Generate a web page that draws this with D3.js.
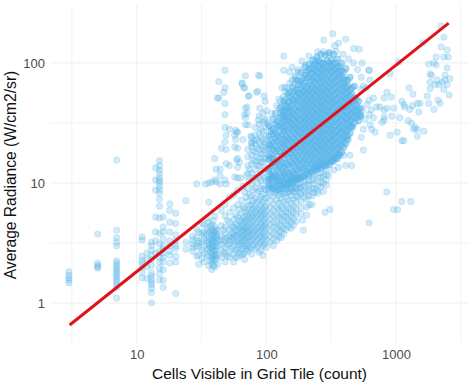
<!DOCTYPE html>
<html>
<head>
<meta charset="utf-8">
<script src="https://cdn.jsdelivr.net/npm/d3@7"></script>
<style>
	body { margin: 0; background: #fff; }
	text { font-family: "Liberation Sans", Arial, sans-serif; }
</style>
</head>
<body>
<script>
// tick labels and grid breaks
var xTicks = [10, 100, 1000];
var xMinor = [3.162, 31.62, 316.2, 3162];
var yTicks = [1, 10, 100];
var yMinor = [3.162, 31.62];

// fitted line ends
var lineX = [3.04, 2550];
var lineY = [0.656, 215];

// columns: [cells visible, [radiance, ...]]
var lowColumns = [
	[3, [1.82, 1.7, 1.62, 1.55, 1.47]],
	[5, [3.75, 2.15, 2.05, 2.0, 1.95]],
	[7, [15.5, 4.05, 3.5, 3.2, 3.0, 2.25, 2.15, 2.05, 1.95, 1.88, 1.8, 1.72, 1.65, 1.58, 1.5, 1.42, 1.35, 1.1]],
	[11, [3.55, 3.35, 2.45, 2.25, 2.15, 1.98, 1.8, 1.62]],
	[12, [2.6, 2.3, 2.0, 1.6]],
	[13, [3.2, 3.0, 2.75, 2.5, 2.3, 2.05, 1.78, 1.68, 1.58, 1.48, 1.42, 1.32, 1.22, 1.0]],
	[14, [13.4, 10.6, 8.7, 5.2, 3.9, 3.3, 2.6]],
	[15, [15.3, 13.9, 12.8, 12, 11, 10.5, 10.1, 9.4, 8.8, 8.2, 7.3, 6.4, 5.1, 3.8, 3.1, 2.7, 2.4, 2.2, 1.95, 1.75, 1.55]],
	[16, [5.2, 4.3, 3.9, 3.4, 3.0, 2.8, 2.6, 2.4, 2.2, 1.9, 1.55, 1.35]],
	[18, [6.7, 5.9, 4.7, 3.9, 3.3, 3, 2.7, 2.5, 2.15]],
	[20, [5.6, 4.6, 3.7, 3.3, 3, 2.85, 2.45, 2.2, 1.2]],
	[24, [7.1, 3.2, 2.8]]
];

var lowerBand = [
	[27, [3.6, 3.1, 2.7, 3.35, 2.9]],
	[29, [4.1, 3.0, 2.45, 3.5]],
	[30, [3.9, 3.3, 2.9, 2.5, 2.1, 3.15]],
	[32, [3.8, 3.2, 2.75, 4.6, 2.35]],
	[33, [4.5, 3.9, 3.4, 3.0, 2.6, 2.2, 3.65]],
	[35, [5.1, 4.2, 3.3, 2.85, 2.5, 3.75]],
	[36, [6.9, 4.7, 4.0, 3.5, 3.2, 2.8, 2.45, 2.05, 3.05]],
	[37, [4.35, 3.85, 3.35, 2.95, 2.65, 2.25]],
	[38, [4.5, 4.1, 3.7, 3.4, 3.1, 2.85, 2.6, 2.35, 2.15, 1.9]],
	[39, [4.85, 3.95, 3.6, 3.25, 3.0, 2.75, 2.5, 2.3, 2.05]],
	[40, [5.3, 4.3, 3.9, 3.55, 3.2, 2.95, 2.7, 2.45, 2.25, 2.0]],
	[41, [4.1, 3.75, 3.45, 3.15, 2.8, 2.55, 2.35]],
	[42, [4.0, 3.6, 3.0, 2.5, 2.1, 3.3]],
	[45, [5.9, 4.4, 3.6, 3.1, 2.75, 2.4, 3.35]],
	[47, [4.05, 3.25, 2.65]],
	[48, [6.6, 5.3, 4.3, 3.8, 3.4, 2.9, 2.55, 2.2]],
	[50, [4.9, 3.5, 3.05, 2.45]],
	[52, [7.6, 5.7, 4.7, 4.1, 3.6, 3.1, 2.7, 2.4, 3.3]],
	[54, [4.35, 3.85, 3.45, 2.85]],
	[56, [8, 6.2, 5.0, 4.3, 3.8, 3.3, 3, 2.55, 2.2, 3.55]],
	[58, [5.4, 4.55, 4.05, 3.65, 3.15, 2.75, 2.4]],
	[60, [16, 13.5, 11, 8.7, 6.6, 5.2, 4.5, 4.0, 3.6, 3.2, 2.8, 2.4]],
	[62, [6, 4.85, 4.2, 3.75, 3.35, 3.05, 2.65]],
	[64, [7.2, 5.6, 4.8, 4.3, 3.9, 3.5, 3.2, 2.85, 2.5]],
	[66, [9.4, 6.4, 5.05, 4.45, 4.05, 3.65, 3.3, 2.95, 2.55]],
	[68, [8.4, 6.2, 5.3, 4.7, 4.2, 3.8, 3.4, 3.0, 2.6, 2.3]],
	[70, [11.5, 7.6, 5.7, 4.95, 4.35, 3.95, 3.55, 3.15, 2.8]],
	[72, [19, 16.5, 14, 12, 9, 7, 6, 5.3, 4.7, 4.2, 3.8, 3.4, 3, 2.7]],
	[74, [13, 10.4, 8, 6.5, 5.6, 5, 4.45, 4, 3.6, 3.25, 2.85]],
	[77, [24, 20, 17, 14.5, 12, 10, 7.8, 6.6, 5.8, 5.2, 4.6, 4.1, 3.7, 3.3, 2.9, 2.55]],
	[79, [18.5, 15.5, 11, 8.8, 7.1, 6.1, 5.4, 4.85, 4.3, 3.85, 3.45, 3.05]],
	[82, [29, 25, 21, 18, 15, 13, 9.1, 7.4, 6.4, 5.7, 5.1, 4.5, 4, 3.6, 3.2, 2.8]],
	[85, [23, 19.5, 16.5, 14, 11.5, 10, 8.2, 6.9, 6, 5.35, 4.7, 4.2, 3.75, 3.35, 2.95]],
	[88, [36, 31, 26, 22, 19, 16, 14, 11, 8.6, 7.2, 6.2, 5.5, 4.9, 4.3, 3.9, 3.5, 3.1, 2.65]],
	[91, [28, 24, 20.5, 17.5, 15, 12.5, 10.5, 9, 7.7, 6.6, 5.8, 5.15, 4.55, 4.05, 3.6, 3.2, 2.75]],
	[94, [38, 32, 27, 23, 20, 17.5, 15, 12, 9.5, 8, 6.9, 6, 5.4, 4.8, 4.3, 3.8, 3.4, 3, 2.5]],
	[97, [33, 21.5, 18.5, 16, 13.5, 11, 8.9, 7.4, 6.3, 5.6, 5, 4.45, 4, 3.55, 3.1]],
	[100, [40, 34, 29, 25, 22, 19, 16, 13, 10.5, 8.7, 7.5, 6.5, 5.8, 5.2, 4.6, 4.2, 3.7, 3.3, 2.9]],
	[107, [8.2, 7.2, 6.3, 5.6, 5, 4.5, 4, 3.6, 3.2]],
	[113, [7.7, 6.7, 5.9, 5.3, 4.75, 4.25, 3.8, 3.4, 3]],
	[120, [8.5, 7.2, 6.2, 5.4, 4.7, 4.2, 3.7, 3.3]],
	[125, [7.9, 6.8, 6, 5.2, 4.5, 4, 3.55]],
	[130, [8.6, 7.4, 6.4, 5.6, 5, 4.4, 3.9, 3.5]],
	[136, [8.1, 7, 6.1, 5.35, 4.8, 4.2, 3.75]],
	[142, [8.8, 7.6, 6.6, 5.8, 5.2, 4.6, 4.1]],
	[148, [8.3, 7.2, 6.2, 5.5, 4.9, 4.35]],
	[155, [8.9, 7.8, 6.8, 6, 5.3, 4.7, 4.2]],
	[162, [8.4, 7.3, 6.4, 5.65, 5, 4.45]],
	[170, [9, 7.8, 6.9, 6.1, 5.5, 4.8]],
	[185, [9.2, 8, 7, 6.2, 5.5]],
	[205, [9.8, 8.4, 7.3, 6.3, 5.4]],
	[225, [10.5, 9, 7.8, 6.6]],
	[250, [11, 9.5, 8.2]],
	[275, [11.5, 10, 8.5]]
];

// joins the lower band to the core, and widens the core's upper left side
var bridge = [
	[104, [11.2, 10.1, 9.1, 8.4]],
	[111, [10.8, 9.6, 8.9]],
	[117, [11.4, 10.2, 9.3, 8.2]],
	[124, [10.7, 9.7, 8.9]],
	[129, [11.5, 10.4, 9.4, 8.2, 48, 43, 38]],
	[135, [10.9, 9.9, 9, 52, 46, 36]],
	[140, [11.2, 10.3, 9.4, 8.3, 58, 50, 44]],
	[146, [10.6, 9.8, 9, 62, 54, 42]],
	[152, [11.3, 10.2, 9.3, 8.5, 68, 58, 48]],
	[158, [10.4, 9.6, 8.8, 72, 56]],
	[166, [11, 10, 9.2, 8.5, 78, 66, 54]],
	[175, [10.6, 9.7, 8.9, 7.7, 84, 72]],
	[183, [10.8, 10, 9.1, 8.2]],
	[196, [11.2, 10.3, 9.4, 8.6, 7.6]],
	[212, [11.4, 10.5, 9.6, 8.7, 7.8]],
	[233, [11.8, 10.8, 9.8, 8.9]],
	[262, [12.2, 11.2, 10.2, 9.2]],
	[290, [12.8, 11.8, 10.6, 9.6]]
];

// dense middle of the cloud, read by column
var coreColumns = [
	[105, [30, 24.5, 21, 19.4, 16.8, 15.6, 13.2, 12.5, 10.7, 9.6]],
	[109, [27, 23, 20.4, 17.4, 16.1, 13.9, 11.7, 10.9, 9.4]],
	[113, [34, 28, 25.6, 21.8, 18.9, 15.9, 14.8, 12.1, 11.2, 9]],
	[118, [38, 31, 26, 23.4, 20.3, 18.2, 15.1, 13.6, 11.6, 10.3, 8.8]],
	[122, [33, 29.5, 24.8, 22.2, 19.1, 16.6, 14.6, 12.9, 11, 10]],
	[127, [42, 35, 30.4, 27.4, 23.8, 20.9, 18.3, 15.7, 14, 12.3, 10.4, 9]],
	[133, [40, 36.6, 31.8, 28.6, 25, 21.6, 19.7, 17.1, 14.9, 13.1, 11.4, 9.5]],
	[137, [48, 39, 34, 30, 26.7, 23.1, 20.6, 18, 16, 13.7, 12, 10]],
	[142, [44, 41, 35.8, 32.5, 28.2, 24.6, 22.4, 19.2, 17.3, 14.5, 12.7, 11, 9.5]],
	[148, [56, 47, 38.7, 34.4, 31, 27, 23.6, 21, 18.7, 16.4, 14.2, 12.2, 10]],
	[153, [52, 43.5, 40, 36, 32, 29, 25.4, 22.6, 20, 17.6, 15.2, 13.3, 11.6, 10.5]],
	[159, [63, 50, 45, 38.5, 34.5, 30.5, 27.6, 24, 21.6, 19, 16.7, 14.6, 12.4, 11, 10]],
	[165, [58, 48.5, 41.6, 37, 33.4, 29.6, 26.2, 23.2, 20.4, 18.1, 15.9, 13.8, 11.9, 10.5]],
	[171, [72, 60, 52.5, 46.4, 40.4, 35.6, 32, 28.4, 25.2, 22, 19.6, 17.2, 15, 13, 11.3, 10.8]],
	[177, [66, 56, 49.5, 43.6, 38.8, 34, 30.3, 27, 24, 21.2, 18.6, 16.3, 14.3, 12.5, 11]],
	[184, [83, 70, 61, 54, 47.6, 42, 37, 33, 29, 26, 22.8, 20.2, 17.9, 15.6, 13.7, 12.1, 11]],
	[191, [74, 65, 57.5, 51, 45, 40, 35.4, 31.4, 27.8, 24.8, 21.8, 19.3, 17, 14.9, 13, 11.3]],
	[198, [92, 79, 68, 59, 52.4, 46.6, 41.2, 36.4, 32.4, 28.9, 25.6, 22.6, 20, 17.7, 15.5, 13.6, 11.5]],
	[205, [85, 75, 64, 56.5, 49.8, 44, 39.2, 34.6, 30.8, 27.4, 24.4, 21.4, 18.9, 16.7, 14.6, 12.8, 12]],
	[213, [98, 87, 76, 66, 58.4, 51.6, 45.8, 40.6, 36, 32, 28.4, 25.2, 22.2, 19.7, 17.4, 15.3, 13.4, 11.8]],
	[221, [90, 81, 71, 62, 54.8, 48.6, 43, 38, 34, 30, 26.8, 23.8, 21, 18.6, 16.4, 14.4, 12.5]],
	[229, [106, 94, 83, 73, 64, 57, 50.4, 44.6, 39.6, 35.2, 31.2, 27.6, 24.6, 21.8, 19.3, 17.1, 15, 13.2, 12.3]],
	[237, [99, 88, 78, 69, 60.6, 53.6, 47.4, 42, 37.2, 33, 29.4, 26, 23, 20.4, 18, 15.9, 14, 13]],
	[246, [112, 96, 85, 75, 66, 58.6, 52, 46, 40.8, 36.2, 32, 28.4, 25.2, 22.4, 19.8, 17.5, 15.4, 13.6, 12.8]],
	[255, [104, 92, 81, 71.6, 63, 55.6, 49, 43.6, 38.6, 34.2, 30.4, 27, 24, 21.2, 18.8, 16.6, 14.7, 13.5]],
	[264, [118, 101, 89, 78, 69, 61, 54, 47.8, 42.4, 37.6, 33.4, 29.6, 26.2, 23.2, 20.6, 18.2, 16, 14.2, 13.2]],
	[274, [100, 90, 80, 71, 62.6, 55.4, 49, 43.4, 38.4, 34.2, 30.2, 26.8, 23.8, 21, 18.6, 16.4, 14.6, 14]],
	[284, [116, 97, 86, 76, 67.4, 59.6, 52.8, 46.8, 41.4, 36.8, 32.6, 28.8, 25.6, 22.6, 20, 17.8, 15.6, 13.8]],
	[295, [104, 93, 83, 73, 64.6, 57.2, 50.6, 44.8, 39.8, 35.2, 31.2, 27.8, 24.6, 21.8, 19.2, 17, 15, 14.5]],
	[306, [122, 100, 88, 78, 69.4, 61.4, 54.4, 48, 42.6, 37.8, 33.6, 29.8, 26.4, 23.4, 20.8, 18.4, 16.2, 14.2]],
	[317, [106, 95, 84, 74, 65.8, 58.2, 51.6, 45.6, 40.4, 35.8, 31.8, 28.2, 25, 22.2, 19.6, 17.4, 15.4, 15]],
	[329, [118, 98, 87, 77, 68, 60, 53.4, 47.4, 42, 37.2, 33, 29.2, 25.8, 23, 20.4, 18, 16, 15.2]],
	[341, [100, 90, 80, 70.6, 62.6, 55.4, 49.2, 43.6, 38.6, 34.2, 30.4, 27, 24, 21.2, 18.8, 16.6, 15.8]],
	[354, [108, 93, 82, 73, 64.4, 57, 50.6, 45, 39.8, 35.4, 31.4, 27.8, 24.6, 21.8, 19.4, 17.2, 16]],
	[367, [94, 84, 75, 66.6, 59, 52.4, 46.4, 41.2, 36.6, 32.4, 28.8, 25.6, 22.6, 20, 17.8, 17]],
	[381, [100, 86, 76, 67.6, 60, 53, 47.2, 41.8, 37, 33, 29.2, 26, 23, 20.4, 18]],
	[396, [84, 74, 65.6, 58.2, 51.6, 45.8, 40.6, 36, 32, 28.4, 25.2, 22.4, 19.8]],
	[411, [90, 71, 63, 56, 49.6, 44, 39, 34.6, 30.8, 27.2, 24.2, 21.4]],
	[426, [72, 64, 56.6, 50.2, 44.6, 39.6, 35, 31.2, 27.6, 24.6, 23]],
	[442, [76, 60, 53, 47, 41.8, 37, 33, 29.4, 26]],
	[459, [62, 54.6, 48.4, 43, 38.2, 34, 30, 29]],
	[477, [64, 51, 45, 40, 35.6, 31.6]],
	[495, [50, 44.4, 39.4, 35]],
	[514, [48, 41, 36.4, 33]],
	[533, [42, 37, 36]]
];

// scattered tiles: [cells visible, radiance]
var upperLeft = [
	[48, 87], [43, 70], [48, 62], [47, 57], [43, 51], [42, 51], [48, 46], [69, 78], [65, 67], [68, 62], [73, 53], [69, 42], [71, 43],
	[68, 37], [87, 79], [86, 58], [69, 35], [69, 30.5], [48, 37], [48, 29], [52, 28], [59, 26.5], [58, 27.5], [57, 25], [49, 25],
	[45, 19.5], [48, 22], [58, 23], [60, 19.5], [49, 19], [57, 20], [66, 23], [81, 22.5], [77, 21.5], [40, 16], [49, 14.5], [52, 14],
	[44, 13], [41, 13], [44, 11.5], [59, 15.5], [62, 14.8], [63, 11], [57, 11.2], [48, 10.6], [40, 10.6], [34, 9.8], [36, 10], [38, 10.2],
	[41, 10.2], [44, 9.8], [29, 9.8], [49, 9.8], [96, 53], [98, 48], [89, 42], [71, 38], [87, 33.5], [72, 30.5], [60, 26.5], [76, 24.5],
	[77, 21.5], [89, 78], [65, 68], [67, 62], [84, 57], [73, 53]
];

var topFringe = [
	[136, 114], [136, 87], [151, 84], [188, 104], [213, 114], [277, 155], [325, 175], [410, 158], [361, 146], [249, 124], [277, 124],
	[338, 139], [473, 132], [520, 130], [547, 100], [620, 87], [132, 62], [139, 63], [166, 75], [125, 50], [120, 44], [158, 92],
	[175, 88], [200, 96], [240, 105], [300, 118], [345, 125], [390, 118], [430, 108], [470, 100], [505, 88], [540, 76], [560, 64],
	[110, 38], [103, 31], [112, 28]
];

var rightTail = [
	[2230, 203], [1620, 147], [2340, 164], [2230, 136], [2480, 128], [2040, 112], [2340, 112], [2530, 112], [1790, 98], [1960, 100],
	[2040, 96], [1880, 79], [1830, 81], [2480, 91], [2390, 79], [2610, 74], [2390, 72], [1830, 69], [2080, 72], [2480, 66], [2270, 69],
	[2140, 66], [2000, 66], [1830, 61], [2570, 54], [2340, 60], [1740, 53], [2110, 49], [2190, 46], [1960, 41], [1530, 46], [1790, 46],
	[1460, 46], [1350, 55], [1260, 62], [1050, 102], [900, 81], [850, 57], [920, 52], [810, 51], [1110, 48], [1150, 45], [1170, 43],
	[1280, 41], [1340, 44], [1500, 39], [960, 42], [850, 42], [810, 35.5], [930, 36], [1070, 35], [1240, 33], [1320, 31.5], [1400, 29],
	[1460, 28], [1640, 27], [1370, 28], [1460, 24.5], [1020, 26.5], [900, 25], [1110, 22.5], [1150, 22.5], [690, 26.5], [780, 32],
	[810, 33.5], [810, 40.5], [750, 43], [645, 40.5], [710, 43], [670, 35], [630, 30.5], [620, 37], [670, 51], [620, 49], [590, 62],
	[630, 72], [620, 87], [540, 60], [550, 40.5], [600, 45], [580, 34], [560, 28], [540, 24], [650, 28]
];

var lowerRight = [
	[850, 8.4], [1110, 7], [1300, 7], [960, 6], [1030, 6], [620, 4.65], [283, 5.7], [310, 6], [455, 14], [410, 14], [560, 18.8],
	[440, 17], [395, 17], [190, 4.9], [193, 4.05], [215, 6.6], [232, 8.3], [245, 8.6], [330, 12.8], [360, 13.5], [300, 11.5]
];

function flatten(columns) {
	var out = [];
	columns.forEach(function(c) {
		c[1].forEach(function(y) { out.push([c[0], y]); });
	});
	return out;
}

var scatter = flatten(lowColumns).concat(flatten(lowerBand), flatten(bridge), upperLeft, topFringe, rightTail, lowerRight);
var core = flatten(coreColumns);

var width = 474,
	height = 387;

var x = d3.scaleLog()
	.domain([2.145, 3657])
	.range([50, 469]);

var y = d3.scaleLog()
	.domain([0.464, 304])
	.range([343, 5]);

var chart = d3.select('body')
	.append('svg')
	.attr('width', width)
	.attr('height', height)
	.attr('class', 'chart');

// grid
var grid = chart.append('g').attr('fill', 'none');

function gridLines(values, color, lineWidth) {
	values.x.forEach(function(d) {
		grid.append('line')
			.attr('x1', x(d)).attr('x2', x(d))
			.attr('y1', 5).attr('y2', 343)
			.attr('stroke', color).attr('stroke-width', lineWidth);
	});
	values.y.forEach(function(d) {
		grid.append('line')
			.attr('x1', 50).attr('x2', 469)
			.attr('y1', y(d)).attr('y2', y(d))
			.attr('stroke', color).attr('stroke-width', lineWidth);
	});
}
gridLines({x: xMinor, y: yMinor}, '#f3f3f3', 1);
gridLines({x: xTicks, y: yTicks}, '#eeeeee', 1);

// axes
var xAxis = d3.axisBottom(x)
	.tickValues(xTicks)
	.tickFormat(d3.format('d'))
	.tickSize(0)
	.tickPadding(7);

chart.append('g')
	.attr('transform', 'translate(0,343)')
	.call(xAxis)
	.call(function(g) { g.select('.domain').remove(); })
	.selectAll('text')
	.attr('fill', '#4d4d4d')
	.style('font-size', '13px');

var yAxis = d3.axisLeft(y)
	.tickValues(yTicks)
	.tickFormat(d3.format('d'))
	.tickSize(0)
	.tickPadding(5);

chart.append('g')
	.attr('transform', 'translate(50,0)')
	.call(yAxis)
	.call(function(g) { g.select('.domain').remove(); })
	.selectAll('text')
	.attr('fill', '#4d4d4d')
	.style('font-size', '13px');

// points, the core stands in for the heavy overplotting so it is more opaque
var points = chart.append('g').attr('fill', '#56B4E9').attr('stroke', '#56B4E9').attr('stroke-width', 0.8);

points.selectAll('circle.core')
	.data(core)
	.enter().append('circle')
	.attr('class', 'core')
	.attr('cx', function(d) { return x(d[0]); })
	.attr('cy', function(d) { return y(d[1]); })
	.attr('r', 3.2)
	.attr('fill-opacity', 0.5)
	.attr('stroke-opacity', 0.5);

points.selectAll('circle.scatter')
	.data(scatter)
	.enter().append('circle')
	.attr('class', 'scatter')
	.attr('cx', function(d) { return x(d[0]); })
	.attr('cy', function(d) { return y(d[1]); })
	.attr('r', 3.2)
	.attr('fill-opacity', 0.27)
	.attr('stroke-opacity', 0.27);

// fitted line
chart.append('line')
	.attr('x1', x(lineX[0])).attr('y1', y(lineY[0]))
	.attr('x2', x(lineX[1])).attr('y2', y(lineY[1]))
	.attr('stroke', '#e2111a')
	.attr('stroke-width', 3);

// axis titles
chart.append('text')
	.attr('x', 259.5)
	.attr('y', 379)
	.attr('text-anchor', 'middle')
	.attr('fill', '#111')
	.style('font-size', '15.5px')
	.text('Cells Visible in Grid Tile (count)');

chart.append('text')
	.attr('transform', 'translate(16,175) rotate(-90)')
	.attr('text-anchor', 'middle')
	.attr('fill', '#111')
	.style('font-size', '15.6px')
	.text('Average Radiance (W/cm2/sr)');
</script>
</body>
</html>
